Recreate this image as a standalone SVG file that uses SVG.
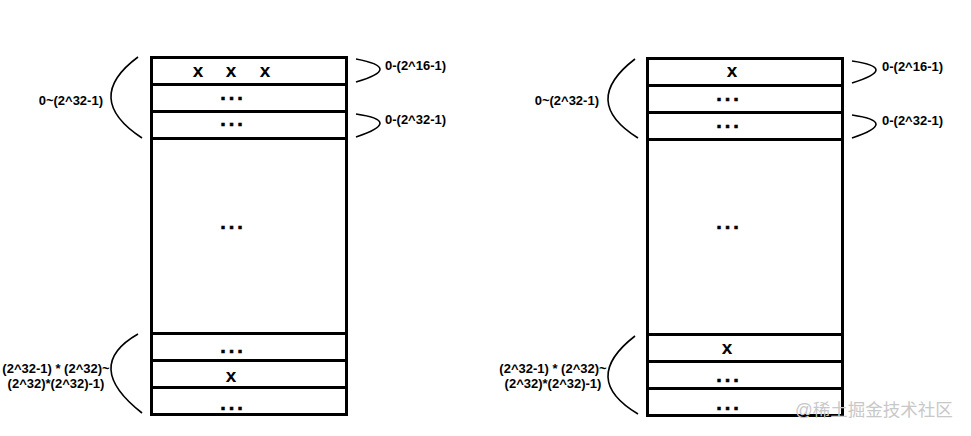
<svg xmlns="http://www.w3.org/2000/svg" width="971" height="436" viewBox="0 0 971 436">
<style>
.cell{fill:#fff;stroke:#000;stroke-width:3}
.br{fill:none;stroke:#000;stroke-width:1.6}
.lbl{font-family:"Liberation Sans",Arial,sans-serif;font-size:13px;font-weight:bold;fill:#000}
.x{font-family:"Liberation Sans",Arial,sans-serif;font-size:19px;font-weight:bold;fill:#000;text-anchor:middle}
.dots{font-family:"Liberation Sans",Arial,sans-serif;font-size:20px;font-weight:bold;fill:#000;text-anchor:middle;letter-spacing:3px;stroke:#000;stroke-width:0.6}
.wm{font-family:"Liberation Sans","Noto Sans CJK SC",sans-serif;font-size:17.5px;fill:#c8c8c8}
</style>
<rect width="971" height="436" fill="#fff"/>
<g id="left-memory">
<rect class="cell" x="151.5" y="57.5" width="195" height="27"/>
<rect class="cell" x="151.5" y="84.5" width="195" height="27"/>
<rect class="cell" x="151.5" y="111.5" width="195" height="27"/>
<rect class="cell" x="151.5" y="138.5" width="195" height="195"/>
<rect class="cell" x="151.5" y="333.5" width="195" height="27"/>
<rect class="cell" x="151.5" y="360.5" width="195" height="27"/>
<rect class="cell" x="151.5" y="387.5" width="195" height="27"/>
<text class="x" x="198" y="77">x</text>
<text class="x" x="231" y="77">x</text>
<text class="x" x="265" y="77">x</text>
<text class="dots" x="233" y="100">...</text>
<text class="dots" x="233" y="126">...</text>
<text class="dots" x="233" y="229">...</text>
<text class="dots" x="233" y="353">...</text>
<text class="x" x="231" y="382">x</text>
<text class="dots" x="233" y="410">...</text>
</g>
<g id="right-memory">
<rect class="cell" x="647.5" y="58.5" width="195" height="27"/>
<rect class="cell" x="647.5" y="85.5" width="195" height="27"/>
<rect class="cell" x="647.5" y="112.5" width="195" height="27"/>
<rect class="cell" x="647.5" y="139.5" width="195" height="195"/>
<rect class="cell" x="647.5" y="334.5" width="195" height="27"/>
<rect class="cell" x="647.5" y="361.5" width="195" height="27"/>
<rect class="cell" x="647.5" y="388.5" width="195" height="27"/>
<text class="x" x="732" y="77">x</text>
<text class="dots" x="729" y="101">...</text>
<text class="dots" x="729" y="128">...</text>
<text class="dots" x="729" y="229">...</text>
<text class="x" x="727" y="354">x</text>
<text class="dots" x="729" y="382">...</text>
<text class="dots" x="729" y="410">...</text>
</g>
<g id="connectors">
<path class="br" d="M138,57 Q82,98.5 142,138"/>
<path class="br" d="M138,334 Q82,366 142,413"/>
<path class="br" d="M356,59 Q404,68 356,82"/>
<path class="br" d="M356,114 Q404,121 356,137"/>
<path class="br" d="M635,59 Q579.5,101.5 638,138"/>
<path class="br" d="M635,336 Q579.5,379 638,414"/>
<path class="br" d="M852,61 Q900,68 852,83"/>
<path class="br" d="M852,115 Q900,122 852,138"/>
</g>
<g id="left-labels">
<text class="lbl" x="103" y="104.5" text-anchor="end">0~(2^32-1)</text>
<text class="lbl" x="385" y="69.5">0-(2^16-1)</text>
<text class="lbl" x="385" y="123.5">0-(2^32-1)</text>
<text class="lbl" x="56" y="372.5" text-anchor="middle">(2^32-1) * (2^32)~</text>
<text class="lbl" x="56" y="387.5" text-anchor="middle">(2^32)*(2^32)-1)</text>
</g>
<g id="right-labels">
<text class="lbl" x="599" y="104.5" text-anchor="end">0~(2^32-1)</text>
<text class="lbl" x="882" y="70.5">0-(2^16-1)</text>
<text class="lbl" x="882" y="124.5">0-(2^32-1)</text>
<text class="lbl" x="553" y="372.5" text-anchor="middle">(2^32-1) * (2^32)~</text>
<text class="lbl" x="553" y="387.5" text-anchor="middle">(2^32)*(2^32)-1)</text>
</g>
<text class="wm" x="795" y="416">@稀土掘金技术社区</text>
</svg>
